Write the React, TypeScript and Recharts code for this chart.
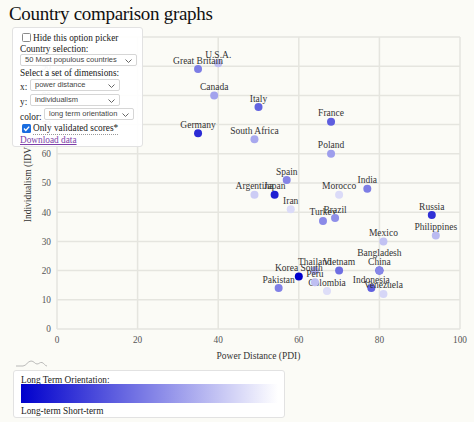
import React from 'react';
import { ScatterChart, Scatter, XAxis, YAxis, CartesianGrid } from 'recharts';

// Hofstede scores for the validated countries, drawn back to front
const countries = [
  'U.S.A.', 'Great Britain', 'Canada', 'Italy', 'France', 'Germany', 'South Africa', 'Poland',
  'Spain', 'Argentina', 'Japan', 'Morocco', 'India', 'Iran', 'Turkey', 'Brazil', 'Russia',
  'Philippines', 'Mexico', 'China', 'Bangladesh', 'Thailand', 'Vietnam', 'Korea South',
  'Colombia', 'Peru', 'Pakistan', 'Indonesia', 'Venezuela',
];
const powerDistance = [
  40, 35, 39, 50, 68, 35, 49, 68, 57, 49, 54, 70, 77, 58, 66, 69, 93, 94, 81, 80, 80, 64, 70, 60,
  67, 64, 55, 78, 81,
];
const individualism = [
  91, 89, 80, 76, 71, 67, 65, 60, 51, 46, 46, 46, 48, 41, 37, 38, 39, 32, 30, 20, 20, 20, 20, 18,
  13, 16, 14, 14, 12,
];
const longTermOrientation = [
  26, 51, 36, 61, 63, 83, 34, 38, 48, 20, 88, 14, 51, 14, 46, 44, 81, 27, 24, 87, 47, 32, 57, 100,
  13, 25, 50, 62, 16,
];

const xTicks = [0, 20, 40, 60, 80, 100];
const yTicks = [0, 10, 20, 30, 40, 50, 60, 70, 80, 90, 100];

const SERIF = '"Liberation Serif", "Times New Roman", serif';
const SANS = '"Liberation Sans", Arial, sans-serif';
const BG = '#fbfbf6';
const GRID = '#e5e5df';

// short-term (0) -> white, long-term (100) -> deep blue
const ltoColor = (v: number) => {
  const t = v / 100;
  const rg = Math.round(255 * (1 - t));
  const b = Math.round(255 - 51 * t);
  return `rgb(${rg},${rg},${b})`;
};

const points = countries.map((name, i) => {
  // countries sharing a spot get their labels stacked upwards
  const stack = countries
    .slice(0, i)
    .filter((_, j) => powerDistance[j] === powerDistance[i] && individualism[j] === individualism[i]).length;
  return { name, pdi: powerDistance[i], idv: individualism[i], lto: longTermOrientation[i], stack };
});

const CountryDot = (props: any) => {
  const { cx, cy, payload } = props;
  return (
    <g>
      <circle cx={cx} cy={cy} r={4} fill={ltoColor(payload.lto)} />
      <text
        x={cx}
        y={cy - 5.5 - payload.stack * 9}
        textAnchor="middle"
        fontSize={9.5}
        fontFamily={SERIF}
        fill="#333"
      >
        {payload.name}
      </text>
    </g>
  );
};

const Chevron = () => (
  <svg width={7} height={5} style={{ position: 'absolute', right: 4, top: 4 }}>
    <polyline points="0.5,0.5 3.5,3.5 6.5,0.5" fill="none" stroke="#666" strokeWidth={1} />
  </svg>
);

const FakeSelect = ({ left, top, width, text }: { left: number; top: number; width: number; text: string }) => (
  <div
    style={{
      position: 'absolute', left, top, width, height: 12, boxSizing: 'border-box',
      border: '1px solid #d6d6d6', borderRadius: 2, background: '#fff',
      fontFamily: SANS, fontSize: 7.5, color: '#444', lineHeight: '10px', paddingLeft: 4,
      whiteSpace: 'nowrap', overflow: 'hidden',
    }}
  >
    {text}
    <Chevron />
  </div>
);

const PanelText = ({ left, top, children, style }: { left: number; top: number; children: React.ReactNode; style?: React.CSSProperties }) => (
  <div
    style={{
      position: 'absolute', left, top, fontFamily: SERIF, fontSize: 9.3, color: '#222',
      lineHeight: '10px', whiteSpace: 'nowrap', ...style,
    }}
  >
    {children}
  </div>
);

const OptionPicker = () => (
  <div
    style={{
      position: 'absolute', left: 12, top: 27, width: 131, height: 120, boxSizing: 'border-box',
      background: 'rgba(255,255,255,0.93)', border: '1px solid #e2e2e2', borderRadius: 3,
    }}
  >
    <div
      style={{
        position: 'absolute', left: 9, top: 5, width: 7, height: 7,
        border: '1px solid #8a8a8a', borderRadius: 1.5, background: '#fff',
      }}
    />
    <PanelText left={20} top={5}>Hide this option picker</PanelText>
    <PanelText left={7} top={16}>Country selection:</PanelText>
    <FakeSelect left={7} top={26} width={117} text="50 Most populous countries" />
    <PanelText left={7} top={40}>Select a set of dimensions:</PanelText>
    <PanelText left={7} top={54}>x:</PanelText>
    <FakeSelect left={17} top={51} width={90} text="power distance" />
    <PanelText left={7} top={69}>y:</PanelText>
    <FakeSelect left={17} top={66} width={90} text="individualism" />
    <PanelText left={7} top={84}>color:</PanelText>
    <FakeSelect left={31} top={80} width={90} text="long term orientation" />
    <svg width={9} height={9} style={{ position: 'absolute', left: 9, top: 96 }}>
      <rect x={0} y={0} width={9} height={9} rx={1.5} fill="#1a6de0" />
      <polyline points="2,4.6 3.8,6.4 7.2,2.6" fill="none" stroke="#fff" strokeWidth={1.4} />
    </svg>
    <PanelText left={20} top={96} style={{ borderBottom: '1px dotted #999', lineHeight: '9px', paddingBottom: 1 }}>
      Only validated scores*
    </PanelText>
    <PanelText left={7} top={107} style={{ color: '#7d3ea8', textDecoration: 'underline' }}>
      Download data
    </PanelText>
  </div>
);

const ColorLegend = () => (
  <>
    <svg width={40} height={12} style={{ position: 'absolute', left: 12, top: 357 }}>
      <path
        d="M4,9 L11,9 C14,9 16,4 19,4 C22,4 23,7 25,7 C27,7 28,5 30,5.5 C32,6 33,9 35,9"
        fill="none"
        stroke="#aaa"
        strokeWidth={0.8}
      />
    </svg>
    <div
      style={{
        position: 'absolute', left: 13, top: 370, width: 272, height: 48, boxSizing: 'border-box',
        background: '#fff', border: '1px solid #e2e2e2', borderRadius: 3,
      }}
    >
      <PanelText left={7} top={4}>Long Term Orientation:</PanelText>
      <div
        style={{
          position: 'absolute', left: 7, top: 13, width: 257, height: 19,
          background: `linear-gradient(to right, ${ltoColor(100)}, ${ltoColor(50)}, ${ltoColor(0)})`,
        }}
      />
      <PanelText left={7} top={35}>Long-term Short-term</PanelText>
    </div>
  </>
);

export default function App() {
  return (
    <div style={{ position: 'fixed', left: 0, top: 0, width: 474, height: 422, background: BG, overflow: 'hidden' }}>
      <div
        style={{
          position: 'absolute', left: 9, top: 2, fontFamily: SERIF, fontSize: 19, letterSpacing: -0.3,
          color: '#111', lineHeight: '24px', whiteSpace: 'nowrap',
        }}
      >
        Country comparison graphs
      </div>
      <div style={{ position: 'absolute', left: 0, top: 0 }}>
        <ScatterChart width={474} height={422} margin={{ top: 37, right: 14, bottom: 0, left: 0 }}>
          <CartesianGrid stroke={GRID} strokeWidth={1.5} />
          <XAxis
            type="number"
            dataKey="pdi"
            domain={[0, 100]}
            ticks={xTicks}
            height={93}
            tickSize={0}
            tickMargin={7}
            axisLine={false}
            tickLine={false}
            tick={{ fontSize: 9.3, fontFamily: SERIF, fill: '#555' }}
            label={{
              content: ({ viewBox }: any) => (
                <text
                  x={viewBox.x + viewBox.width / 2}
                  y={viewBox.y + 30}
                  textAnchor="middle"
                  fontSize={9.5}
                  fontFamily={SERIF}
                  fill="#333"
                >
                  Power Distance (PDI)
                </text>
              ),
            }}
          />
          <YAxis
            type="number"
            dataKey="idv"
            domain={[0, 100]}
            ticks={yTicks}
            width={57}
            tickSize={0}
            tickMargin={6}
            axisLine={false}
            tickLine={false}
            tick={{ fontSize: 9.3, fontFamily: SERIF, fill: '#555' }}
            label={{
              content: ({ viewBox }: any) => {
                const x = viewBox.x + 31;
                const y = viewBox.y + viewBox.height / 2;
                return (
                  <text
                    x={x}
                    y={y}
                    transform={`rotate(-90, ${x}, ${y})`}
                    textAnchor="middle"
                    fontSize={9.5}
                    fontFamily={SERIF}
                    fill="#333"
                  >
                    Individualism (IDV)
                  </text>
                );
              },
            }}
          />
          <Scatter data={points} shape={CountryDot} isAnimationActive={false} />
        </ScatterChart>
      </div>
      <OptionPicker />
      <ColorLegend />
    </div>
  );
}
